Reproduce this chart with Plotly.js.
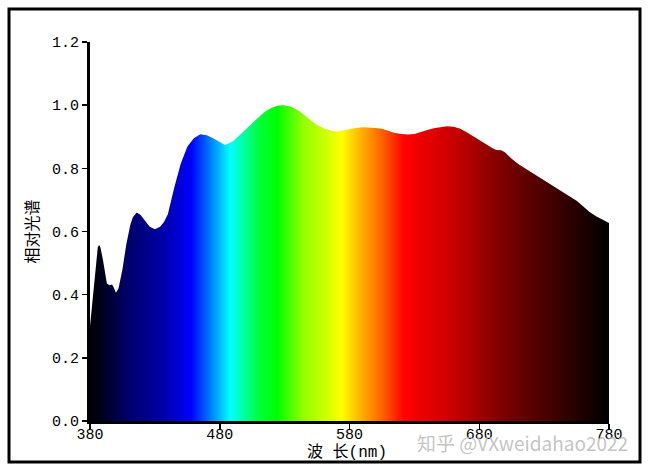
<!DOCTYPE html>
<html>
<head>
<meta charset="utf-8">
<script src="https://cdn.plot.ly/plotly-3.0.1.min.js"></script>
<style>
html,body{margin:0;padding:0;background:#fff;}
#chart{width:649px;height:469px;}
</style>
</head>
<body>
<div id="chart"></div>
<script>
// ---- data ----
const wavelength = [380,382,384,386,387,388,390,392,393,395,397,398,400,402,405,408,411,413,416,419,422,426,430,434,437,440,445,450,455,460,465,470,475,480,484,490,495,500,505,510,515,520,525,530,535,540,545,550,555,560,565,570,575,580,585,590,595,600,605,610,615,620,625,630,635,640,645,650,655,660,665,670,675,680,685,690,693,697,700,705,710,715,720,725,730,735,740,745,750,755,760,765,770,775,780];
const relSpectrum = [0.30,0.38,0.48,0.55,0.557,0.55,0.51,0.455,0.435,0.43,0.432,0.425,0.406,0.42,0.48,0.56,0.62,0.645,0.66,0.652,0.635,0.615,0.607,0.615,0.63,0.655,0.74,0.815,0.868,0.895,0.908,0.905,0.895,0.882,0.874,0.885,0.903,0.923,0.943,0.962,0.980,0.992,0.999,1.0,0.995,0.985,0.970,0.952,0.937,0.927,0.920,0.917,0.921,0.925,0.928,0.930,0.930,0.928,0.925,0.918,0.912,0.909,0.907,0.909,0.914,0.921,0.927,0.931,0.933,0.932,0.926,0.915,0.902,0.889,0.877,0.864,0.858,0.857,0.850,0.830,0.814,0.801,0.789,0.777,0.764,0.750,0.736,0.724,0.711,0.697,0.680,0.662,0.648,0.637,0.627];
const xTickVals = [380,480,580,680,780];
const yTickVals = [0,0.2,0.4,0.6,0.8,1.0,1.2];
const yTickText = ['0.0','0.2','0.4','0.6','0.8','1.0','1.2'];
const yTitle = '相对光谱';
const xTitle = '波 长(nm)';
const watermark = '知乎 @VXweidahao2022';

// ---- spectrum colours (style) ----
const specStops = [
  [380,'#000000'],[395,'#000032'],[410,'#00006e'],[430,'#000096'],[445,'#0000c8'],
  [458,'#0000ff'],[470,'#0064ff'],[488,'#00ffff'],[500,'#00ff96'],[510,'#00ff3c'],
  [524,'#00ff00'],[545,'#96ff00'],[560,'#c8ff00'],[574,'#ffff00'],[590,'#ffaa00'],
  [605,'#ff6400'],[622,'#ff0000'],[640,'#e60000'],[660,'#c80000'],[680,'#a00000'],
  [700,'#780000'],[730,'#4b0000'],[760,'#1e0000'],[780,'#000000']
];
const colorscale = specStops.map(s => [(s[0]-380)/400, s[1]]);

const trace = {
  x: wavelength,
  y: relSpectrum,
  type: 'scatter',
  mode: 'lines',
  line: {width: 0, color: 'rgba(0,0,0,0)'},
  fill: 'tozeroy',
  fillgradient: {type: 'horizontal', start: 380, stop: 780, colorscale: colorscale},
  hoverinfo: 'x+y'
};

const L = 90, R = 40, T = 42, B = 48, W = 649, H = 469;
const pw = W - L - R, ph = H - T - B;
const px = v => (v - L) / pw;
const py = v => (H - B - v) / ph;
const mono = '"Liberation Mono", "Courier New", monospace';

const layout = {
  width: W, height: H,
  margin: {l: L, r: R, t: T, b: B, pad: 0},
  paper_bgcolor: '#ffffff',
  plot_bgcolor: '#ffffff',
  showlegend: false,
  font: {family: mono, color: '#000'},
  xaxis: {
    range: [380, 780],
    tickvals: xTickVals,
    ticktext: xTickVals.map(String),
    ticks: 'outside', ticklen: 5, tickwidth: 1.5, tickcolor: '#000',
    ticklabelstandoff: -8,
    showline: true, linewidth: 3, linecolor: '#000',
    showgrid: false, zeroline: false,
    tickfont: {size: 15, family: mono, color: '#000'}
  },
  yaxis: {
    range: [0, 1.2],
    tickvals: yTickVals,
    ticktext: yTickText,
    ticks: 'outside', ticklen: 5, tickwidth: 1.5, tickcolor: '#000',
    showline: true, linewidth: 3, linecolor: '#000',
    showgrid: false, zeroline: false,
    tickfont: {size: 15, family: mono, color: '#000'},
    title: {text: yTitle, font: {size: 16, family: '"Noto Sans CJK SC", sans-serif', color: '#000'}, standoff: 10}
  },
  shapes: [{
    type: 'rect', xref: 'paper', yref: 'paper',
    x0: px(9), x1: px(640), y0: py(462), y1: py(9),
    line: {color: '#000', width: 3}, fillcolor: 'rgba(0,0,0,0)', layer: 'above'
  }],
  annotations: [{
    xref: 'paper', yref: 'paper', x: px(347), y: py(452),
    text: xTitle, showarrow: false,
    font: {size: 16, family: '"Liberation Mono", "Noto Sans CJK SC", monospace', color: '#000'},
    xanchor: 'center', yanchor: 'middle'
  }, {
    xref: 'paper', yref: 'paper', x: px(522), y: py(442),
    text: watermark, showarrow: false,
    font: {size: 19, family: '"Noto Sans CJK SC", sans-serif', color: 'rgba(185,185,185,0.85)'},
    xanchor: 'center', yanchor: 'middle'
  }]
};

Plotly.newPlot('chart', [trace], layout, {displayModeBar: false, staticPlot: true});
</script>
</body>
</html>
